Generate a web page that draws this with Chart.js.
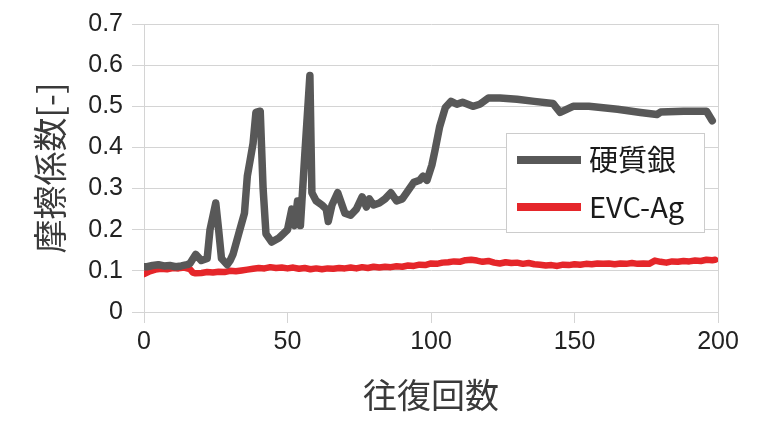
<!DOCTYPE html>
<html>
<head>
<meta charset="utf-8">
<script src="https://cdn.jsdelivr.net/npm/chart.js@4/dist/chart.umd.min.js"></script>
<style>
  html, body { margin: 0; padding: 0; background: #fff; }
  #wrap { width: 768px; height: 422px; }
</style>
</head>
<body>
<div id="wrap"><canvas id="frictionChart" width="768" height="422"></canvas></div>
<script>
const seriesNames = ['硬質銀', 'EVC-Ag'];
const seriesColors = ['#585858', '#e5262a'];

const silverX = [0, 1, 3, 5, 7, 9, 11, 13, 15, 16, 18, 20, 22, 23, 25, 26, 27, 29, 30, 31, 33, 35, 36, 37, 38, 39, 40.5, 41.5, 42.5, 44.5, 47, 50, 51.5, 52.5, 53.5, 54.5, 56, 57.8, 58.5, 60, 62, 63.5, 64.2, 65.5, 67.5, 70, 72, 74, 76, 77.5, 78.5, 80, 82, 84, 86, 88, 90, 92, 94, 96, 97.2, 98.6, 100.3, 101.4, 103, 105, 107, 109, 111, 114.6, 117, 120, 124, 130, 136, 142.5, 145, 149.5, 155, 165, 173, 178.7, 180, 188, 196, 198];
const silverY = [0.11, 0.11, 0.113, 0.115, 0.112, 0.113, 0.11, 0.112, 0.115, 0.118, 0.14, 0.125, 0.13, 0.2, 0.265, 0.2, 0.13, 0.115, 0.125, 0.14, 0.19, 0.24, 0.33, 0.37, 0.41, 0.485, 0.488, 0.3, 0.19, 0.17, 0.18, 0.2, 0.25, 0.21, 0.27, 0.21, 0.38, 0.575, 0.29, 0.27, 0.26, 0.25, 0.22, 0.26, 0.29, 0.24, 0.235, 0.25, 0.28, 0.255, 0.275, 0.26, 0.265, 0.275, 0.29, 0.27, 0.275, 0.295, 0.315, 0.32, 0.33, 0.32, 0.357, 0.393, 0.45, 0.497, 0.512, 0.505, 0.51, 0.5, 0.505, 0.52, 0.52, 0.517, 0.512, 0.507, 0.485, 0.5, 0.5, 0.493, 0.485, 0.48, 0.486, 0.488, 0.488, 0.465];

const evcX = [0, 2, 4, 6, 8, 10, 12, 14, 16, 17, 18, 20, 22, 24, 26, 28, 30, 32, 34, 36, 38, 40, 42, 44, 46, 48, 50, 52, 54, 56, 58, 60, 62, 64, 66, 68, 70, 72, 74, 76, 78, 80, 82, 84, 86, 88, 90, 92, 94, 96, 98, 100, 102, 104, 106, 108, 110, 112, 114, 116, 118, 120, 122, 124, 126, 128, 130, 132, 134, 136, 138, 140, 142, 144, 146, 148, 150, 152, 154, 156, 158, 160, 162, 164, 166, 168, 170, 172, 174, 176, 178, 180, 182, 184, 186, 188, 190, 192, 194, 196, 198, 199];
const evcY = [0.092, 0.099, 0.103, 0.105, 0.104, 0.107, 0.106, 0.108, 0.104, 0.096, 0.094, 0.095, 0.097, 0.096, 0.098, 0.097, 0.1, 0.099, 0.101, 0.103, 0.105, 0.107, 0.106, 0.109, 0.107, 0.108, 0.106, 0.108, 0.105, 0.107, 0.104, 0.106, 0.104, 0.106, 0.105, 0.107, 0.106, 0.108, 0.106, 0.109, 0.107, 0.11, 0.108, 0.11, 0.109, 0.111, 0.11, 0.113, 0.112, 0.115, 0.114, 0.118, 0.117, 0.12, 0.121, 0.123, 0.122, 0.126, 0.127, 0.125, 0.122, 0.124, 0.12, 0.118, 0.121, 0.119, 0.12, 0.117, 0.119, 0.116, 0.115, 0.113, 0.114, 0.112, 0.115, 0.114, 0.116, 0.115, 0.117, 0.116, 0.118, 0.117, 0.118, 0.116, 0.118, 0.117, 0.119, 0.117, 0.118, 0.117, 0.125, 0.122, 0.12, 0.123, 0.122, 0.124, 0.123, 0.125, 0.124, 0.127, 0.126, 0.127];

const xTicks = [0, 50, 100, 150, 200];
const yTicks = [0, 0.1, 0.2, 0.3, 0.4, 0.5, 0.6, 0.7];

const gridGray = '#d4d4d4';
const tickFont = { family: '"Liberation Sans", Arial, sans-serif', size: 25 };
const titleFont = { family: '"Noto Sans CJK JP", sans-serif', size: 34 };

function toPoints(xs, ys) {
  return xs.map((x, i) => ({ x, y: ys[i] }));
}

// legend box drawn inside the plot area, like the original
const boxLegend = {
  id: 'boxLegend',
  afterDraw(chart) {
    const ctx = chart.ctx;
    ctx.save();
    ctx.fillStyle = '#fff';
    ctx.fillRect(506, 133, 198, 99);
    ctx.strokeStyle = '#cccccc';
    ctx.lineWidth = 1;
    ctx.strokeRect(506.5, 133.5, 198, 99);
    chart.data.datasets.forEach((ds, i) => {
      const y = 160 + i * 47;
      ctx.strokeStyle = ds.borderColor;
      ctx.lineWidth = 8;
      ctx.lineCap = 'butt';
      ctx.beginPath();
      ctx.moveTo(517, y);
      ctx.lineTo(581, y);
      ctx.stroke();
      ctx.fillStyle = '#1a1a1a';
      ctx.font = '29px "Noto Sans CJK JP", sans-serif';
      ctx.textBaseline = 'middle';
      ctx.fillText(ds.label, 589, y);
    });
    ctx.restore();
  }
};

new Chart(document.getElementById('frictionChart'), {
  type: 'line',
  data: {
    datasets: [
      {
        label: seriesNames[0],
        data: toPoints(silverX, silverY),
        borderColor: seriesColors[0],
        borderWidth: 7.5,
        pointRadius: 0,
        tension: 0,
        borderJoinStyle: 'round',
        borderCapStyle: 'round'
      },
      {
        label: seriesNames[1],
        data: toPoints(evcX, evcY),
        borderColor: seriesColors[1],
        borderWidth: 6.5,
        pointRadius: 0,
        tension: 0,
        borderJoinStyle: 'round',
        borderCapStyle: 'round'
      }
    ]
  },
  options: {
    responsive: false,
    animation: false,
    layout: { padding: { top: 18, right: 50, left: 0, bottom: 0 } },
    plugins: {
      legend: { display: false },
      tooltip: { enabled: false }
    },
    scales: {
      x: {
        type: 'linear',
        min: 0,
        max: 200,
        afterBuildTicks: scale => { scale.ticks = xTicks.map(v => ({ value: v })); },
        afterFit: scale => { scale.height = 110; },
        ticks: { font: tickFont, color: '#222', padding: 4, maxRotation: 0 },
        grid: {
          color: ctx => (ctx.tick && (ctx.tick.value === 0 || ctx.tick.value === 200)) ? gridGray : 'rgba(0,0,0,0)',
          tickColor: gridGray,
          tickLength: 11,
          lineWidth: 1
        },
        border: { color: gridGray },
        title: { display: true, text: '往復回数', font: titleFont, color: '#3a3a3a', padding: { top: 0, bottom: 7 } }
      },
      y: {
        min: 0,
        max: 0.7,
        afterBuildTicks: scale => { scale.ticks = yTicks.map(v => ({ value: v })); },
        afterFit: scale => { scale.width = 144; },
        ticks: { font: tickFont, color: '#222', padding: 9, callback: v => String(Math.round(v * 10) / 10) },
        grid: { color: gridGray, tickColor: gridGray, tickLength: 12, lineWidth: 1 },
        border: { color: gridGray },
        title: { display: true, text: '摩擦係数[-]', font: titleFont, color: '#3a3a3a', padding: { top: 30, bottom: 0 } }
      }
    }
  },
  plugins: [boxLegend]
});
</script>
</body>
</html>
